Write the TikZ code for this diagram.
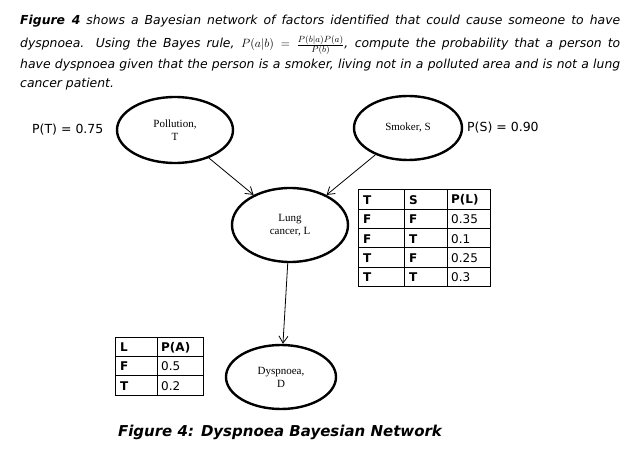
\documentclass[tikz,border=0pt]{standalone}
\usepackage{fontspec}
\setmainfont{DejaVu Sans}
\newfontfamily\serifnode{Liberation Serif}
\usetikzlibrary{shapes.geometric,arrows.meta}
\begin{document}
\begin{tikzpicture}[x=1pt,y=-1pt,
  bnode/.style={ellipse,draw,line width=2.4pt,inner sep=0pt,font=\serifnode\fontsize{11}{13}\selectfont,align=center},
  conn/.style={-{Straight Barb[length=7pt,width=9pt]},line width=0.8pt},
  para/.style={anchor=base west,inner sep=0pt,font=\fontsize{12.4}{15}\selectfont\itshape},
  cell/.style={anchor=west,inner sep=0pt,font=\fontsize{12}{14}\selectfont},
  grid/.style={line width=1pt}]
\useasboundingbox (0,0) rectangle (630,454);
% paragraph
\node[para] (l1) at (20,25) {\makebox[600pt][s]{\textbf{Figure 4} shows a Bayesian network of factors identified that could cause someone to have}};
\node[para] (l2) at (20,48) {\makebox[600pt][s]{dyspnoea. Using the Bayes rule, {\upshape$P(a|b)=\frac{P(b|a)P(a)}{P(b)}$}, compute the probability that a person to}};
\node[para] (l3) at (20,69) {\makebox[600pt][s]{have dyspnoea given that the person is a smoker, living not in a polluted area and is not a lung}};
\node[para] (l4) at (20,88) {cancer patient.};
% nodes
\node[bnode,minimum width=116pt,minimum height=66pt] (P) at (175,130) {Pollution,\\T};
\node[bnode,minimum width=108pt,minimum height=64pt] (S) at (408,128) {Smoker, S};
\node[bnode,minimum width=116pt,minimum height=74pt] (L) at (290,225) {Lung\\cancer, L};
\node[bnode,minimum width=110pt,minimum height=64pt] (D) at (281,377) {Dyspnoea,\\D};
\node[anchor=west,inner sep=0pt,font=\fontsize{12.5}{14}\selectfont] (pt) at (32,130) {P(T) = 0.75};
\node[anchor=west,inner sep=0pt,font=\fontsize{12.5}{14}\selectfont] (ps) at (467,128) {P(S) = 0.90};
\draw[conn] (P) -- (L);
\draw[conn] (S) -- (L);
\draw[conn] (L) -- (D);
% table L
\draw[grid] (358,190) rectangle (490,287);
\foreach \y in {210,229,248,268} \draw[grid] (358,\y) -- (490,\y);
\foreach \x in {404,447} \draw[grid] (\x,190) -- (\x,287);
\node[cell] (lh1) at (363,200) {\textbf{T}};
\node[cell] (lh2) at (409,200) {\textbf{S}};
\node[cell] (lh3) at (451,200) {\textbf{P(L)}};
\foreach \a/\b/\p [count=\i] in {F/F/0.35,F/T/0.1,T/F/0.25,T/T/0.3}{
  \pgfmathsetmacro\yy{200+19.4*\i}
  \node[cell] (la\i) at (363,\yy) {\textbf{\a}};
  \node[cell] (lb\i) at (409,\yy) {\textbf{\b}};
  \node[cell] (lc\i) at (451,\yy) {\p};
}
% table A
\draw[grid] (115,338) rectangle (203,396);
\foreach \y in {357,376} \draw[grid] (115,\y) -- (203,\y);
\draw[grid] (157,338) -- (157,396);
\node[cell] (ah1) at (120,347.5) {\textbf{L}};
\node[cell] (ah2) at (161,347.5) {\textbf{P(A)}};
\node[cell] (aa1) at (120,366.5) {\textbf{F}};
\node[cell] (ab1) at (161,366.5) {0.5};
\node[cell] (aa2) at (120,386) {\textbf{T}};
\node[cell] (ab2) at (161,386) {0.2};
% caption
\node[inner sep=0pt,font=\fontsize{15}{17}\selectfont\bfseries\itshape] (cap) at (280,432) {Figure 4: Dyspnoea Bayesian Network};
\end{tikzpicture}
\end{document}
